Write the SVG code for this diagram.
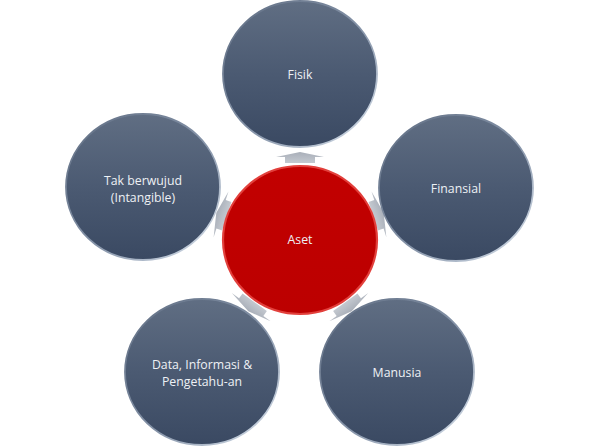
<svg xmlns="http://www.w3.org/2000/svg" width="600" height="448" viewBox="0 0 600 448">
  <defs>
    <linearGradient id="slate" x1="0" y1="0" x2="0" y2="1">
      <stop offset="0" stop-color="#606e83"/>
      <stop offset="0.5" stop-color="#4b5a72"/>
      <stop offset="1" stop-color="#3a4962"/>
    </linearGradient>
    <linearGradient id="rim" x1="0" y1="0" x2="1" y2="1">
      <stop offset="0" stop-color="#5f6d82"/>
      <stop offset="0.55" stop-color="#8593a8"/>
      <stop offset="1" stop-color="#dde6f0"/>
    </linearGradient>
    <linearGradient id="red" x1="0" y1="0" x2="0" y2="1">
      <stop offset="0" stop-color="#c20000"/>
      <stop offset="1" stop-color="#bc0000"/>
    </linearGradient>
    <linearGradient id="arrowFill" x1="0" y1="0" x2="0" y2="1">
      <stop offset="0" stop-color="#a9afb9"/>
      <stop offset="1" stop-color="#c4c9d0"/>
    </linearGradient>
    <path id="arr" d="M -15,-77 L -15,-83 L -24,-83 L 0,-88 L 24,-83 L 15,-83 L 15,-77 Z"/>
  </defs>
  <style>
    .outer { fill: url(#slate); stroke: url(#rim); stroke-width: 1.8; }
    .center { fill: url(#red); stroke: #e2403c; stroke-width: 2.2; }
    .lbl { font-family: "Open Sans", "Liberation Sans", sans-serif; font-size: 12.3px; fill: #eef1f5; text-anchor: middle; dominant-baseline: central; }
    .arrow { fill: url(#arrowFill); }
  </style>
  <rect width="600" height="448" fill="#ffffff"/>

  <g id="connectors" transform="translate(300,240)">
    <use href="#arr" class="arrow" transform="rotate(0)"/>
    <use href="#arr" class="arrow" transform="rotate(72)"/>
    <use href="#arr" class="arrow" transform="rotate(144)"/>
    <use href="#arr" class="arrow" transform="rotate(216)"/>
    <use href="#arr" class="arrow" transform="rotate(288)"/>
  </g>

  <g id="node-fisik">
    <ellipse class="outer" cx="300" cy="74" rx="77" ry="73"/>
    <text class="lbl" x="300" y="74">Fisik</text>
  </g>
  <g id="node-finansial">
    <ellipse class="outer" cx="456" cy="188" rx="77" ry="73"/>
    <text class="lbl" x="456" y="188">Finansial</text>
  </g>
  <g id="node-manusia">
    <ellipse class="outer" cx="397" cy="372" rx="77" ry="73"/>
    <text class="lbl" x="397" y="372">Manusia</text>
  </g>
  <g id="node-data">
    <ellipse class="outer" cx="202" cy="372" rx="77" ry="73"/>
    <text class="lbl" x="202" y="364">Data, Informasi &amp;</text>
    <text class="lbl" x="202" y="381">Pengetahu-an</text>
  </g>
  <g id="node-tak">
    <ellipse class="outer" cx="143" cy="187" rx="77" ry="73"/>
    <text class="lbl" x="143" y="180">Tak berwujud</text>
    <text class="lbl" x="143" y="197">(Intangible)</text>
  </g>
  <g id="node-aset">
    <ellipse class="center" cx="300" cy="240" rx="77" ry="74"/>
    <text class="lbl" x="300" y="239">Aset</text>
  </g>
</svg>
